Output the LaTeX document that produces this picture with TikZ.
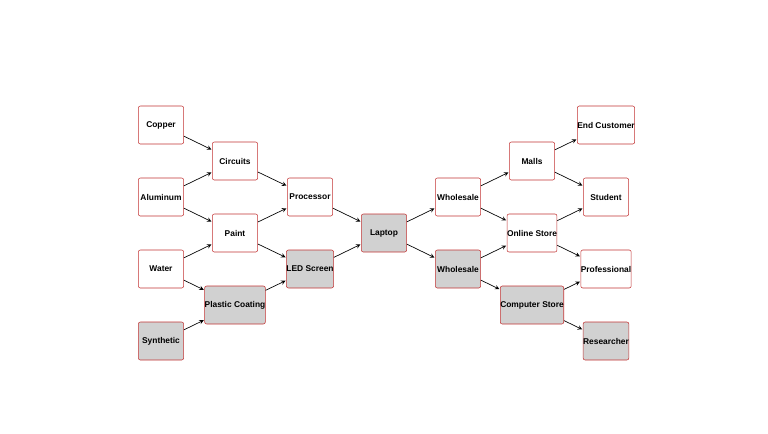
\documentclass[tikz,border=0pt]{standalone}
\usepackage{fontspec}
\setmainfont{Liberation Sans}
\begin{document}
\begin{tikzpicture}[x=0.75pt,y=-0.75pt,
  bx/.style={draw=red!70!black!80,rounded corners=1.5pt,minimum width=34pt,minimum height=28.5pt,inner sep=0pt,font=\fontsize{6.3}{7}\selectfont\bfseries,fill=white},
  gb/.style={bx,fill=black!18},
  ar/.style={->,>=stealth,black,line width=0.5pt,shorten >=0.5pt}]
\useasboundingbox (0,0) rectangle (768,433);
\node[bx] (cu) at (161,125) {Copper};
\node[bx] (al) at (161,197) {Aluminum};
\node[bx] (wa) at (161,269) {Water};
\node[gb] (sy) at (161,341) {Synthetic};
\node[bx] (ci) at (235,161) {Circuits};
\node[bx] (pa) at (235,233) {Paint};
\node[gb] (pc) at (235,305) {Plastic Coating};
\node[bx] (pr) at (310,197) {Processor};
\node[gb] (le) at (310,269) {LED Screen};
\node[gb] (la) at (384,233) {Laptop};
\node[bx] (w1) at (458,197) {Wholesale};
\node[gb] (w2) at (458,269) {Wholesale};
\node[bx] (ma) at (532,161) {Malls};
\node[bx] (on) at (532,233) {Online Store};
\node[gb] (co) at (532,305) {Computer Store};
\node[bx] (en) at (606,125) {End Customer};
\node[bx] (st) at (606,197) {Student};
\node[bx] (pf) at (606,269) {Professional};
\node[gb] (re) at (606,341) {Researcher};
\foreach \a/\b in {cu/ci,al/ci,al/pa,wa/pa,wa/pc,sy/pc,ci/pr,pa/pr,pa/le,pc/le,pr/la,le/la,la/w1,la/w2,w1/ma,w1/on,w2/on,w2/co,ma/en,ma/st,on/st,on/pf,co/pf,co/re}
  \draw[ar] (\a) -- (\b);
\end{tikzpicture}
\end{document}
